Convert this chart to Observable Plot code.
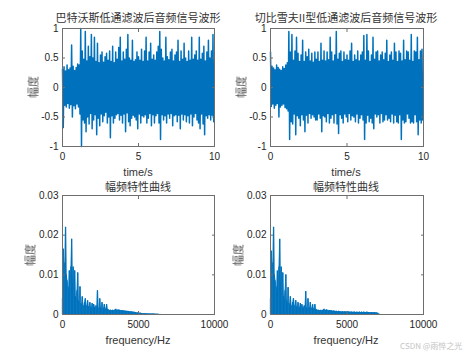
<!DOCTYPE html>
<html><head><meta charset="utf-8">
<script src="https://cdn.jsdelivr.net/npm/d3@7"></script>
<script src="https://cdn.jsdelivr.net/npm/@observablehq/plot@0.6"></script>
<style>
body{margin:0;background:#fff}
#root{position:relative;width:474px;height:355px;overflow:hidden;background:#fff;font-family:"Liberation Sans",Arial,sans-serif}
.p{position:absolute}
.t{position:absolute;white-space:nowrap;transform:translate(-50%,-50%);line-height:1}
.cjk{font-family:"Noto Sans CJK SC",sans-serif;font-size:11px;color:#333}
.lab{font-size:11px;color:#333}
.yl{transform:translate(-50%,-50%) rotate(-90deg);will-change:transform;color:#555}
.wm{position:absolute;font-size:8px;color:#c4c4c4;white-space:nowrap;font-family:"Noto Sans CJK SC",sans-serif;line-height:1}
</style></head>
<body><div id="root"></div>
<script>
// ---- data ----
const titles = ["巴特沃斯低通滤波后音频信号波形", "切比雪夫II型低通滤波后音频信号波形", "幅频特性曲线", "幅频特性曲线"];
const yLabel = "幅度";
const xLabelTime = "time/s";
const xLabelFreq = "frequency/Hz";
const watermark = "CSDN @雨悴之光";
const timeTicks = [0, 5, 10];
const ampTicks = [-1, -0.5, 0, 0.5, 1];
const freqTicks = [0, 5000, 10000];
const magTicks = [0, 0.01, 0.02, 0.03];
const DT = 0.05;      // s between samples
const FSTEP = 50;     // Hz between spectrum bins

// Butterworth filtered waveform (sampled every 0.05 s)
const waveButter = [
 0.31,-0.68,0.35,-0.30,0.28,-0.33,0.38,-0.27,0.30,-0.35,0.33,-0.29,0.72,-0.50,0.36,-0.31,0.29,-0.36,0.34,-0.28,
 0.40,-0.33,0.38,-0.45,1.00,-1.00,0.62,-0.55,0.48,-0.60,0.95,-0.75,0.45,-0.50,0.70,-0.62,0.52,-0.44,0.90,-0.70,
 0.50,-0.55,0.85,-0.46,0.44,-0.80,0.75,-0.52,0.42,-0.65,0.55,-0.45,0.60,-0.58,0.43,-0.48,0.52,-0.42,0.58,-0.60,
 0.46,-0.50,0.62,-0.85,0.44,-0.48,0.70,-0.60,0.42,-0.52,0.60,-0.46,0.48,-0.44,0.68,-0.55,0.85,-0.47,0.45,-0.60,
 0.60,-0.45,0.48,-0.75,0.65,-0.43,0.90,-0.58,0.50,-0.65,0.46,-0.52,0.80,-0.47,0.44,-0.50,0.47,-0.55,0.60,-0.70,
 0.52,-0.45,0.46,-0.60,0.65,-0.48,0.44,-0.50,0.62,-0.46,0.85,-0.60,0.45,-0.52,0.60,-0.44,0.75,-0.65,0.48,-0.46,
 0.55,-0.60,0.46,-0.48,0.60,-0.44,0.70,-0.60,0.95,-0.88,0.65,-0.46,0.50,-0.55,0.45,-0.48,0.85,-0.60,0.52,-0.45,
 0.47,-0.52,0.60,-0.44,0.65,-0.65,0.45,-0.48,0.55,-0.46,0.60,-0.58,0.80,-0.47,0.44,-0.70,0.62,-0.45,0.48,-0.55,
 0.75,-0.46,0.50,-0.58,0.44,-0.48,0.62,-0.60,0.46,-0.45,0.85,-0.65,0.48,-0.50,0.55,-0.44,0.62,-0.55,0.46,-0.60,
 0.85,-0.70,0.48,-0.45,0.58,-0.62,0.70,-0.80,0.45,-0.48,0.60,-0.52,0.80,-0.46,0.50,-0.55,0.62,-0.47,0.90,-0.58
];

// Chebyshev II filtered waveform (sampled every 0.05 s)
const waveCheby = [
 0.60,-0.32,0.36,-0.28,0.33,-0.35,0.30,-0.30,0.38,-0.27,0.34,-0.50,0.31,-0.33,0.29,-0.30,0.35,-0.28,0.32,-0.34,
 0.38,-0.36,0.42,-0.40,0.95,-0.88,0.60,-0.58,0.90,-0.62,0.46,-0.45,0.62,-0.80,0.85,-0.48,0.58,-0.52,0.44,-0.65,
 0.55,-0.46,0.80,-0.55,0.44,-0.75,0.60,-0.47,0.52,-0.60,0.65,-0.44,0.45,-0.52,0.58,-0.46,0.43,-0.50,0.60,-0.55,
 0.48,-0.55,0.60,-0.45,0.44,-0.52,0.75,-0.75,0.46,-0.48,0.62,-0.50,0.45,-0.58,0.60,-0.44,0.47,-0.60,0.85,-0.52,
 0.60,-0.46,0.45,-0.60,0.55,-0.44,0.95,-0.62,0.48,-0.78,0.58,-0.46,0.62,-0.52,0.44,-0.60,0.60,-0.45,0.47,-0.50,
 0.55,-0.58,0.46,-0.44,0.62,-0.55,0.75,-0.48,0.44,-0.50,0.55,-0.58,0.47,-0.45,0.62,-0.60,0.45,-0.52,0.55,-0.46,
 0.60,-0.55,0.88,-0.88,0.46,-0.60,0.90,-0.47,0.62,-0.58,0.44,-0.52,0.55,-0.60,0.85,-0.70,0.48,-0.45,0.60,-0.50,
 0.62,-0.46,0.45,-0.60,0.55,-0.44,0.60,-0.58,0.47,-0.55,0.58,-0.46,0.80,-0.55,0.44,-0.52,0.55,-0.58,0.60,-0.45,
 0.46,-0.60,0.75,-0.47,0.60,-0.58,0.44,-0.60,0.62,-0.46,0.58,-0.88,0.45,-0.55,0.80,-0.60,0.47,-0.58,0.62,-0.45,
 0.60,-0.52,0.46,-0.60,0.90,-0.58,0.44,-0.60,0.62,-0.46,0.60,-0.58,0.85,-0.80,0.47,-0.55,0.62,-0.60,0.65,-0.55
];

// Butterworth spectrum magnitude, bins every 50 Hz from 0 Hz
const specButter = [
 0.0040,0.0165,0.0120,0.0130,0.0220,0.0100,0.0085,0.0070,0.0060,0.0110,0.0065,0.0120,0.0190,0.0080,0.0120,0.0050,0.0110,0.0045,0.0040,0.0060,
 0.0105,0.0035,0.0030,0.0070,0.0028,0.0025,0.0045,0.0022,0.0020,0.0030,0.0040,0.0022,0.0020,0.0035,0.0018,0.0020,0.0030,0.0018,0.0017,0.0028,
 0.0016,0.0025,0.0018,0.0015,0.0022,0.0017,0.0060,0.0016,0.0015,0.0040,0.0018,0.0015,0.0030,0.0014,0.0016,0.0025,0.0014,0.0013,0.0025,0.0013,
 0.0012,0.0011,0.0010,0.0011,0.0009,0.0010,0.0011,0.0009,0.0010,0.0012,0.0013,0.0011,0.0010,0.0012,0.0010,0.0011,0.0009,0.0010,0.0009,0.0010,
 0.0009,0.0008,0.0009,0.0008,0.0008,0.0007,0.0008,0.0007,0.0007,0.0006,0.0007,0.0006,0.0006,0.0005,0.0006,0.0005,0.0005,0.0004,0.0004,0.0004,
 0.0004,0.0003,0.0003,0.0003,0.0002,0.0002,0.0002,0.0002,0.0002,0.0002,0.00015,0.00015,0.00015,0.00012,0.0001,0.0001,0.0001,0.0001,0.0001,0.0001,
 0.0001,0.00008,0.00008,0.00006,0.00006,0.00005,0.00004,0.00003,0.00002,0.00001
];

// Chebyshev II spectrum magnitude, bins every 50 Hz from 0 Hz
const specCheby = [
 0.0040,0.0160,0.0120,0.0130,0.0220,0.0100,0.0085,0.0070,0.0060,0.0110,0.0065,0.0120,0.0190,0.0080,0.0120,0.0050,0.0105,0.0045,0.0040,0.0060,
 0.0100,0.0035,0.0030,0.0068,0.0028,0.0025,0.0045,0.0022,0.0020,0.0030,0.0040,0.0022,0.0020,0.0035,0.0018,0.0020,0.0030,0.0018,0.0017,0.0028,
 0.0016,0.0025,0.0018,0.0015,0.0022,0.0017,0.0058,0.0016,0.0015,0.0040,0.0018,0.0015,0.0030,0.0014,0.0016,0.0025,0.0014,0.0013,0.0025,0.0013,
 0.0012,0.0011,0.0010,0.0011,0.0009,0.0010,0.0011,0.0009,0.0010,0.0012,0.0013,0.0011,0.0010,0.0012,0.0010,0.0011,0.0009,0.0010,0.0009,0.0010,
 0.0009,0.0008,0.0009,0.0008,0.0008,0.0007,0.0008,0.0007,0.0007,0.0008,0.0007,0.0006,0.0007,0.0006,0.0007,0.0006,0.0006,0.0007,0.0006,0.0006,
 0.0006,0.0007,0.0006,0.0006,0.0005,0.0006,0.0006,0.0005,0.0006,0.0005,0.0006,0.0005,0.0005,0.0006,0.0005,0.0005,0.0006,0.0005,0.0005,0.0006,
 0.0005,0.0005,0.0006,0.0005,0.0005,0.0005,0.0006,0.0005,0.0005,0.0005,0.0005,0.0004,0.0005,0.0004,0.0005,0.0004,0.0005,0.0004,0.0004,0.0004,
 0.0003,0.00015,0.00005,0.00002
];

// ---- drawing ----
const BLUE = "#0072BD";
const FRAME = "#6e6e6e";
const fmt = d => String(d);
const none = () => "";
const style = {fontSize: "10px", fontFamily: "'Liberation Sans', Arial, sans-serif", color: "#262626", background: "transparent", overflow: "visible"};

function axes(xt, yt) {
  return [
    Plot.axisX({ticks: xt, tickSize: 0, tickPadding: 6, tickFormat: fmt, label: null}),
    Plot.axisY({ticks: yt, tickSize: 0, tickPadding: 4, tickFormat: fmt, label: null}),
    // small inward ticks on all four sides (MATLAB box style)
    Plot.axisX({ticks: xt, anchor: "bottom", tickSize: -3, tickFormat: none, label: null, stroke: FRAME}),
    Plot.axisX({ticks: xt, anchor: "top", tickSize: -3, tickFormat: none, label: null, stroke: FRAME}),
    Plot.axisY({ticks: yt, anchor: "left", tickSize: -3, tickFormat: none, label: null, stroke: FRAME}),
    Plot.axisY({ticks: yt, anchor: "right", tickSize: -3, tickFormat: none, label: null, stroke: FRAME}),
    Plot.frame({stroke: FRAME})
  ];
}

function wavePlot(values, ml, mr) {
  const data = values.map((v, i) => ({t: i * DT, v}));
  return Plot.plot({
    width: 237, height: 180, marginLeft: ml, marginRight: mr, marginTop: 28, marginBottom: 34,
    style,
    x: {domain: [0, 10]}, y: {domain: [-1, 1]},
    marks: [
      Plot.line(data, {x: "t", y: "v", stroke: BLUE, strokeWidth: 1.5}),
      ...axes(timeTicks, ampTicks)
    ]
  });
}

function specPlot(values, ml, mr) {
  const data = values.map((m, i) => ({f: i * FSTEP, m}));
  return Plot.plot({
    width: 237, height: 175, marginLeft: ml, marginRight: mr, marginTop: 20, marginBottom: 36,
    style,
    x: {domain: [0, 10000]}, y: {domain: [0, 0.03]},
    marks: [
      Plot.ruleX(data, {x: "f", y1: 0, y2: "m", stroke: BLUE, strokeWidth: 1.3}),
      Plot.line(data, {x: "f", y: "m", stroke: BLUE, strokeWidth: 0.8}),
      ...axes(freqTicks, magTicks)
    ]
  });
}

const root = document.getElementById("root");
function place(el, left, top) { el.classList.add("p"); el.style.left = left + "px"; el.style.top = top + "px"; root.appendChild(el); }
function text(str, cls, x, y) { const d = document.createElement("div"); d.className = "t " + cls; d.textContent = str; d.style.left = x + "px"; d.style.top = y + "px"; root.appendChild(d); }

place(wavePlot(waveButter, 62, 23), 0, 0);
place(wavePlot(waveCheby, 33, 51), 237, 0);
place(specPlot(specButter, 62, 23), 0, 175);
place(specPlot(specCheby, 33, 51), 237, 175);

text(titles[0], "cjk", 138, 16.5);
text(titles[1], "cjk", 346, 16.5);
text(titles[2], "cjk", 138, 186);
text(titles[3], "cjk", 346, 186);
text(xLabelTime, "lab", 138, 172);
text(xLabelTime, "lab", 346, 172);
text(xLabelFreq, "lab", 138, 340);
text(xLabelFreq, "lab", 346, 340);
text(yLabel, "cjk yl", 33, 87);
text(yLabel, "cjk yl", 241, 87);
text(yLabel, "cjk yl", 30, 255);
text(yLabel, "cjk yl", 238, 255);
const wm = document.createElement("div"); wm.className = "wm"; wm.textContent = watermark; wm.style.left = "400px"; wm.style.top = "342px"; root.appendChild(wm);
</script>
</body></html>
